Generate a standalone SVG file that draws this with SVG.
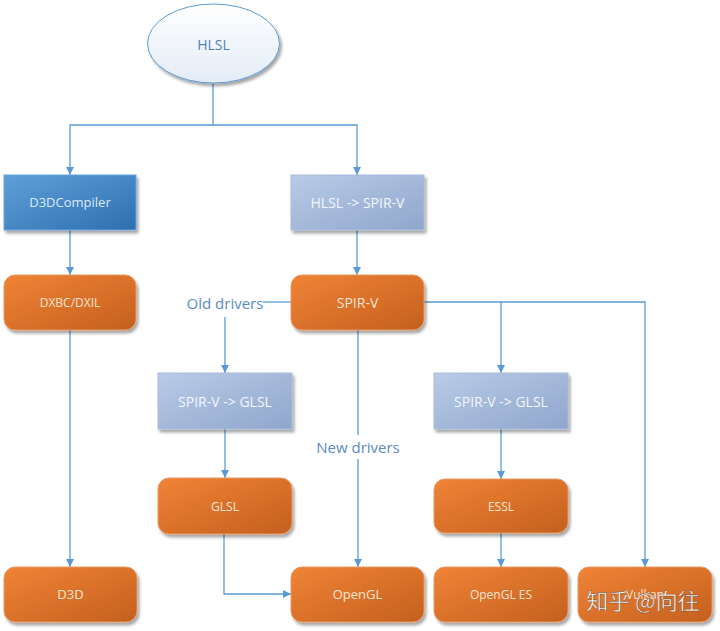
<svg xmlns="http://www.w3.org/2000/svg" width="720" height="631" viewBox="0 0 720 631">
<defs>
<linearGradient id="gOrange" x1="0" y1="0" x2="1" y2="1">
<stop offset="0" stop-color="#f08336"/>
<stop offset="1" stop-color="#c4601e"/>
</linearGradient>
<linearGradient id="gBlue" x1="0" y1="0" x2="1" y2="1">
<stop offset="0" stop-color="#5f9fdb"/>
<stop offset="1" stop-color="#2f6fae"/>
</linearGradient>
<linearGradient id="gGray" x1="0" y1="0" x2="1" y2="1">
<stop offset="0" stop-color="#b9cbe7"/>
<stop offset="1" stop-color="#8fa6cc"/>
</linearGradient>
<linearGradient id="gEll" x1="0" y1="0" x2="0" y2="1">
<stop offset="0" stop-color="#ffffff"/>
<stop offset="1" stop-color="#e3ecf7"/>
</linearGradient>
<filter id="sh" x="-10%" y="-10%" width="130%" height="140%">
<feGaussianBlur in="SourceAlpha" stdDeviation="1.6"/>
<feOffset dx="1.5" dy="2.5" result="b"/>
<feComponentTransfer><feFuncA type="linear" slope="0.35"/></feComponentTransfer>
<feMerge><feMergeNode/><feMergeNode in="SourceGraphic"/></feMerge>
</filter>
<marker id="arr" viewBox="0 0 10 10" refX="10" refY="5" markerWidth="8" markerHeight="8" markerUnits="userSpaceOnUse" orient="auto">
<path d="M0,0 L10,5 L0,10 z" fill="#5b9bd5"/>
</marker>
</defs>
<style>
.conn{fill:none;stroke:#5b9bd5;stroke-width:1.3}
.or{fill:url(#gOrange);stroke:#e89a64;stroke-width:1;filter:url(#sh)}
.bl{fill:url(#gBlue);stroke:#6aa6de;stroke-width:1;filter:url(#sh)}
.gr{fill:url(#gGray);stroke:#a8bbdb;stroke-width:1;filter:url(#sh)}
text{font-family:"Open Sans","Noto Sans","DejaVu Sans",sans-serif;text-anchor:middle;dominant-baseline:central}
.to{fill:#fbe3d2;font-size:12px}
.tob{fill:#fbe3d2;font-size:15px}
.tg{fill:#f3f6fb;font-size:14px}
.tb{fill:#dce9f7;font-size:13px}
.lbl{fill:#5a8cc4;font-size:15px}
</style>
<rect width="720" height="631" fill="#ffffff"/>
<g id="connectors">
<path class="conn" d="M213,83 V125 H70 V175" marker-end="url(#arr)"/>
<path class="conn" d="M213,125 H357 V175" marker-end="url(#arr)"/>
<path class="conn" d="M70,230 V275" marker-end="url(#arr)"/>
<path class="conn" d="M357,230 V275" marker-end="url(#arr)"/>
<path class="conn" d="M70,330 V567" marker-end="url(#arr)"/>
<path class="conn" d="M291,302 H263"/>
<path class="conn" d="M225,317 V373" marker-end="url(#arr)"/>
<path class="conn" d="M225,429 V478" marker-end="url(#arr)"/>
<path class="conn" d="M224,534 V594 H291" marker-end="url(#arr)"/>
<path class="conn" d="M358,330 V435"/>
<path class="conn" d="M358,459 V567" marker-end="url(#arr)"/>
<path class="conn" d="M424,302 H645 V567" marker-end="url(#arr)"/>
<path class="conn" d="M501,302 V373" marker-end="url(#arr)"/>
<path class="conn" d="M501,429 V479" marker-end="url(#arr)"/>
<path class="conn" d="M501,533 V567" marker-end="url(#arr)"/>
<text class="lbl" x="225" y="303">Old drivers</text>
<text class="lbl" x="358" y="447">New drivers</text>
</g>
<g id="hlsl">
<ellipse cx="213.5" cy="43.5" rx="66" ry="39.5" fill="url(#gEll)" stroke="#5b9bd5" stroke-width="1" filter="url(#sh)"/>
<text x="213.5" y="44" fill="#4f81bd" font-size="14">HLSL</text>
</g>
<g id="d3dcompiler">
<rect class="bl" x="4" y="175" width="132" height="55"/>
<text class="tb" x="70" y="202">D3DCompiler</text>
</g>
<g id="hlsl2spirv">
<rect class="gr" x="291" y="175" width="133" height="55"/>
<text class="tg" x="357.5" y="202">HLSL -&gt; SPIR-V</text>
</g>
<g id="dxbc">
<rect class="or" x="4" y="275" width="132" height="55" rx="11"/>
<text class="to" x="70" y="302" font-size="13">DXBC/DXIL</text>
</g>
<g id="spirv">
<rect class="or" x="291" y="275" width="133" height="55" rx="11"/>
<text class="tob" x="357.5" y="302" style="font-size:14px">SPIR-V</text>
</g>
<g id="spirv2glsl-left">
<rect class="gr" x="158" y="373" width="134" height="56"/>
<text class="tg" x="225" y="401">SPIR-V -&gt; GLSL</text>
</g>
<g id="spirv2glsl-right">
<rect class="gr" x="434" y="373" width="134" height="56"/>
<text class="tg" x="501" y="401">SPIR-V -&gt; GLSL</text>
</g>
<g id="glsl">
<rect class="or" x="158" y="478" width="134" height="56" rx="11"/>
<text class="to" x="225" y="506">GLSL</text>
</g>
<g id="essl">
<rect class="or" x="434" y="479" width="134" height="54" rx="11"/>
<text class="to" x="501" y="506">ESSL</text>
</g>
<g id="d3d">
<rect class="or" x="4" y="567" width="133" height="55" rx="11"/>
<text class="to" x="70.5" y="594" style="font-size:13px">D3D</text>
</g>
<g id="opengl">
<rect class="or" x="291" y="567" width="133" height="55" rx="11"/>
<text class="to" x="357.5" y="594" style="font-size:13px">OpenGL</text>
</g>
<g id="opengles">
<rect class="or" x="434" y="567" width="134" height="55" rx="11"/>
<text class="to" x="501" y="594">OpenGL ES</text>
</g>
<g id="vulkan">
<rect class="or" x="578" y="567" width="134" height="55" rx="11"/>
<text class="to" x="645" y="594">Vulkan</text>
</g>
<g id="watermark">
<text x="643" y="599" font-size="22" fill="#ffffff" stroke="#5a3a20" stroke-width="0.4" style="font-family:'Noto Sans CJK SC','Noto Sans',sans-serif">知乎 @向往</text>
</g>
</svg>
